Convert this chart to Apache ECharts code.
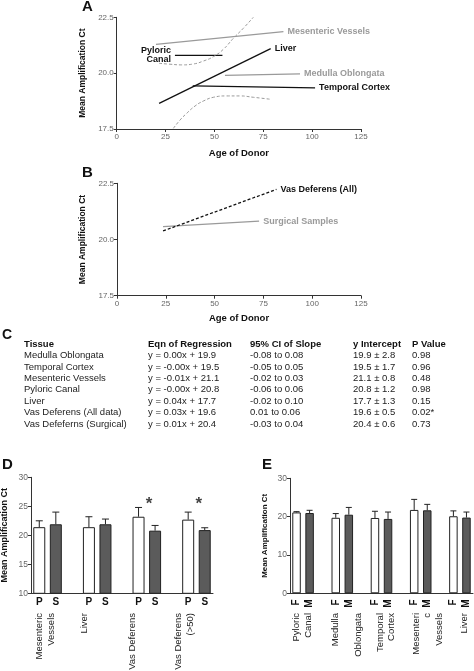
<!DOCTYPE html>
<html lang="en">
<head>
<meta charset="UTF-8">
<title>Ct vs donor age</title>
<script src="https://cdn.jsdelivr.net/npm/echarts@6/dist/echarts.min.js"></script>
<style>
  html, body { margin: 0; padding: 0; background: #fff; }
  #chart { width: 474px; height: 671px; }
</style>
</head>
<body>
<div id="chart"></div>
<script>
// ---- panel A: regression lines (age of donor, Ct) ----
var aMesenteric = [[20.1, 21.29], [85.3, 21.86]];
var aLiver = [[21.7, 18.65], [78.8, 21.1]];
var aPyloric = [[29.8, 20.8], [54.1, 20.8]];
var aMedulla = [[55.4, 19.9], [93.8, 19.97]];
var aTemporal = [[38.9, 19.43], [101.5, 19.34]];
var aCiUpper = [[21.7, 20.44], [27.3, 20.4], [33.3, 20.37], [39.2, 20.41], [44.3, 20.54],
  [49.5, 20.74], [54.6, 21.07], [59.7, 21.56], [64.8, 22.01], [69.9, 22.5]];
var aCiLower = [[29.0, 17.53], [32.4, 17.9], [35.8, 18.2], [40.1, 18.53], [44.3, 18.75],
  [49.5, 18.92], [56.3, 18.98], [63.1, 18.98], [69.9, 18.92], [78.8, 18.83]];

// ---- panel B ----
var bVasAll = [[23.6, 20.38], [81.7, 22.23]];
var bSurgical = [[23.6, 20.57], [72.8, 20.82]];

var ageTicks = [0, 25, 50, 75, 100, 125];
var ctTicks = [17.5, 20.0, 22.5];

// ---- panel C: table ----
var tHeader = ['Tissue', 'Eqn of Regression', '95% CI of Slope', 'y Intercept', 'P Value'];
var tTissue = ['Medulla Oblongata', 'Temporal Cortex', 'Mesenteric Vessels', 'Pyloric Canal',
  'Liver', 'Vas Deferens (All data)', 'Vas Defeferns (Surgical)'];
var tEqn = ['y = 0.00x + 19.9', 'y = -0.00x + 19.5', 'y = -0.01x + 21.1', 'y = -0.00x + 20.8',
  'y = 0.04x + 17.7', 'y = 0.03x + 19.6', 'y = 0.01x + 20.4'];
var tCi = ['-0.08 to 0.08', '-0.05 to 0.05', '-0.02 to 0.03', '-0.06 to 0.06',
  '-0.02 to 0.10', '0.01 to 0.06', '-0.03 to 0.04'];
var tIntercept = ['19.9 \u00b1 2.8', '19.5 \u00b1 1.7', '21.1 \u00b1 0.8', '20.8 \u00b1 1.2',
  '17.7 \u00b1 1.3', '19.6 \u00b1 0.5', '20.4 \u00b1 0.6'];
var tP = ['0.98', '0.96', '0.48', '0.98', '0.15', '0.02*', '0.73'];

// ---- panel D: post-mortem (P) vs surgical (S) ----
var dGroups = ['Mesenteric\nVessels', 'Liver', 'Vas Deferens', 'Vas Deferens\n(>50)'];
var dPMean = [21.4, 21.4, 23.2, 22.7];
var dPErr = [1.1, 1.8, 1.6, 1.3];
var dSMean = [21.9, 21.9, 20.8, 20.9];
var dSErr = [2.1, 0.9, 0.9, 0.4];
var dStar = [null, null, 25.8, 25.8];

// ---- panel E: female (F) vs male (M) ----
var eGroups = ['Pyloric\nCanal', 'Medulla\n\nOblongata', 'Temporal\nCortex', 'Mesenteri\nc\nVessels', 'Liver'];
var eFMean = [21.1, 19.7, 19.65, 21.75, 20.1];
var eFErr = [0.2, 1.1, 1.75, 2.75, 1.4];
var eMMean = [20.95, 20.5, 19.4, 21.65, 19.75];
var eMErr = [0.7, 1.9, 1.8, 1.55, 1.45];

var FONT = '"Liberation Sans", Arial, Helvetica, sans-serif';
var AXIS_COLOR = '#333';
var TICK_COLOR = '#666';

var chart = echarts.init(document.getElementById('chart'), null, { renderer: 'canvas' });

// slot layout: P S gap P S gap ...
function slots(groups, a, b) {
  var cats = [];
  groups.forEach(function (g, i) {
    cats.push(a, b);
    if (i < groups.length - 1) cats.push('');
  });
  return cats;
}
function barData(values, offset, total) {
  var out = [];
  for (var i = 0; i < total; i++) out.push('-');
  values.forEach(function (v, g) { out[g * 3 + offset] = v; });
  return out;
}
function errData(means, errs, offset) {
  return means.map(function (m, g) { return [g * 3 + offset, m, errs[g]]; });
}
function errorRenderer(capW) {
  return function (params, api) {
    var base = api.coord([api.value(0), api.value(1)]);
    var top = api.coord([api.value(0), api.value(1) + api.value(2)]);
    var st = { stroke: '#222', lineWidth: 1 };
    return {
      type: 'group',
      children: [
        { type: 'line', shape: { x1: base[0], y1: base[1], x2: top[0], y2: top[1] }, style: st },
        { type: 'line', shape: { x1: top[0] - capW / 2, y1: top[1], x2: top[0] + capW / 2, y2: top[1] }, style: st }
      ]
    };
  };
}

var dCats = slots(dGroups, 'P', 'S');
var eCats = slots(eGroups, 'F', 'M');

function lineSeries(name, data, grid, color, dashed, width, labelColor, labelPos) {
  var pt = labelPos === 'left' ? data[0] : data[data.length - 1];
  return {
    name: name, type: 'line', xAxisIndex: grid, yAxisIndex: grid,
    data: data, smooth: data.length > 2, showSymbol: false, symbol: 'none',
    lineStyle: { color: color, width: width, type: dashed ? [3, 2] : 'solid' },
    silent: true,
    markPoint: labelColor ? {
      symbol: 'circle', symbolSize: 0.1, silent: true,
      data: [{ coord: pt }],
      label: {
        show: true, position: labelPos || 'right', distance: 4, formatter: name,
        color: labelColor, fontFamily: FONT, fontWeight: 'bold', fontSize: 9, lineHeight: 9
      }
    } : undefined
  };
}

function ageAxes(grid, nameGap) {
  return {
    x: {
      type: 'value', gridIndex: grid, min: 0, max: 125, interval: 25,
      name: 'Age of Donor', nameLocation: 'middle', nameGap: nameGap,
      nameTextStyle: { fontFamily: FONT, fontWeight: 'bold', fontSize: 9.5, color: '#111' },
      axisLine: { lineStyle: { color: AXIS_COLOR } },
      axisTick: { length: 3, lineStyle: { color: AXIS_COLOR } },
      axisLabel: { fontFamily: FONT, fontSize: 8, color: TICK_COLOR, margin: 4,
        customValues: ageTicks },
      splitLine: { show: false }
    },
    y: {
      type: 'value', gridIndex: grid, min: 17.5, max: 22.5, interval: 2.5,
      name: 'Mean Amplification Ct', nameLocation: 'middle', nameGap: 24, nameRotate: 90,
      nameTextStyle: { fontFamily: FONT, fontWeight: 'bold', fontSize: 8.5, color: '#111' },
      axisLine: { show: true, lineStyle: { color: AXIS_COLOR } },
      axisTick: { show: true, length: 3, lineStyle: { color: AXIS_COLOR } },
      axisLabel: { fontFamily: FONT, fontSize: 8, color: TICK_COLOR, margin: 3,
        formatter: function (v) { return v.toFixed(1); } },
      splitLine: { show: false }
    }
  };
}

function barAxes(grid, cats, min, max, interval, rotate, margin, nameGap, nameSize) {
  return {
    x: {
      type: 'category', gridIndex: grid, data: cats,
      axisLine: { lineStyle: { color: AXIS_COLOR } },
      axisTick: { show: false },
      axisLabel: { interval: 0, fontFamily: FONT, fontWeight: 'bold', fontSize: 10,
        color: '#111', rotate: rotate, margin: margin }
    },
    y: {
      type: 'value', gridIndex: grid, min: min, max: max, interval: interval,
      name: 'Mean Amplification Ct', nameLocation: 'middle', nameGap: nameGap, nameRotate: 90,
      nameTextStyle: { fontFamily: FONT, fontWeight: 'bold', fontSize: nameSize, color: '#111' },
      axisLine: { show: true, lineStyle: { color: AXIS_COLOR } },
      axisTick: { show: true, length: 3, lineStyle: { color: AXIS_COLOR } },
      axisLabel: { fontFamily: FONT, fontSize: 8.5, color: TICK_COLOR, margin: 3 },
      splitLine: { show: false }
    }
  };
}

var axA = ageAxes(0, 19);
var axB = ageAxes(1, 18);
var axD = barAxes(2, dCats, 10, 30, 5, 0, 4, 22, 9);
var axE = barAxes(3, eCats, 0, 30, 10, 90, 6, 21, 8);

var GRAY = '#9a9a9a';
var series = [
  lineSeries('Mesenteric Vessels', aMesenteric, 0, GRAY, false, 1.2, GRAY),
  lineSeries('Liver', aLiver, 0, '#111', false, 1.3, '#111'),
  lineSeries('Pyloric\nCanal', aPyloric, 0, '#111', false, 1.3, '#111', 'left'),
  lineSeries('Medulla Oblongata', aMedulla, 0, GRAY, false, 1.2, GRAY),
  lineSeries('Temporal Cortex', aTemporal, 0, '#111', false, 1.3, '#111'),
  lineSeries('ci upper', aCiUpper, 0, GRAY, true, 1),
  lineSeries('ci lower', aCiLower, 0, GRAY, true, 1),
  lineSeries('Surgical Samples', bSurgical, 1, GRAY, false, 1.3, GRAY),
  lineSeries('Vas Deferens (All)', bVasAll, 1, '#111', true, 1.3, '#111')
];

function barSeries(grid, values, total, offset, fill, width) {
  return {
    type: 'bar', xAxisIndex: grid, yAxisIndex: grid,
    data: barData(values, offset, total), barWidth: width, barGap: '-100%',
    itemStyle: { color: fill, borderColor: '#222', borderWidth: 1 }, silent: true
  };
}
series.push(
  barSeries(2, dPMean, dCats.length, 0, '#ffffff', 12),
  barSeries(2, dSMean, dCats.length, 1, '#5b5b5b', 12),
  { type: 'custom', xAxisIndex: 2, yAxisIndex: 2, renderItem: errorRenderer(7),
    data: errData(dPMean, dPErr, 0).concat(errData(dSMean, dSErr, 1)), silent: true, z: 3 },
  { type: 'scatter', xAxisIndex: 2, yAxisIndex: 2, symbolSize: 0.1, silent: true,
    data: dStar.map(function (y, g) { return y === null ? null : [g * 3 + 1, y]; })
      .filter(function (d) { return d; }),
    label: { show: true, formatter: '*', position: 'inside', offset: [-6, 3],
      fontFamily: FONT, fontWeight: 'bold', fontSize: 17, color: '#111' } },
  barSeries(3, eFMean, eCats.length, 0, '#ffffff', 8.5),
  barSeries(3, eMMean, eCats.length, 1, '#5b5b5b', 8.5),
  { type: 'custom', xAxisIndex: 3, yAxisIndex: 3, renderItem: errorRenderer(6),
    data: errData(eFMean, eFErr, 0).concat(errData(eMMean, eMErr, 1)), silent: true, z: 3 }
);

// table text for panel C
var tableCols = [24, 148, 250, 353, 412];
var tableTop = 344, rowStep = 11.45;
var graphics = [];
function txt(x, y, s, opt) {
  opt = opt || {};
  graphics.push({
    type: 'text', x: x, y: y, rotation: opt.rotation || 0, silent: true,
    style: {
      text: s, fill: opt.color || '#111', fontFamily: FONT,
      fontWeight: opt.bold ? 'bold' : 'normal', fontSize: opt.size || 9.5,
      align: opt.align || 'left', verticalAlign: opt.valign || 'middle',
      lineHeight: opt.lineHeight
    }
  });
}
tHeader.forEach(function (h, c) { txt(tableCols[c], tableTop, h, { bold: true, size: 9.5 }); });
var tCols = [tTissue, tEqn, tCi, tIntercept, tP];
tCols.forEach(function (col, c) {
  col.forEach(function (s, r) {
    txt(tableCols[c], tableTop + rowStep * (r + 1), s, { size: 9.5, color: '#222' });
  });
});

// panel letters
txt(82, 7, 'A', { bold: true, size: 15 });
txt(82, 173, 'B', { bold: true, size: 15 });
txt(2, 335, 'C', { bold: true, size: 14 });
txt(2, 465, 'D', { bold: true, size: 15 });
txt(262, 465, 'E', { bold: true, size: 15 });

chart.setOption({
  animation: false,
  backgroundColor: '#fff',
  textStyle: { fontFamily: FONT },
  grid: [
    { left: 116.7, top: 17.3, width: 244.3, height: 111.7, outerBoundsMode: 'none' },
    { left: 117, top: 183.3, width: 244, height: 112.4, outerBoundsMode: 'none' },
    { left: 31, top: 477.3, width: 182, height: 116, outerBoundsMode: 'none' },
    { left: 290, top: 478.3, width: 183, height: 115, outerBoundsMode: 'none' }
  ],
  xAxis: [axA.x, axB.x, axD.x, axE.x],
  yAxis: [axA.y, axB.y, axD.y, axE.y],
  series: series,
  graphic: graphics
});

// group names under bar panels, rotated, placed from the category slots
function groupLabels(grid, groups, shift, lh) {
  groups.forEach(function (g, i) {
    var px = chart.convertToPixel({ xAxisIndex: grid }, i * 3);
    var nLines = g.split('\n').length;
    txt(px + shift[i] + (nLines - 1) * lh / 2, 613, g, {
      rotation: Math.PI / 2, align: 'right', size: 9.5, lineHeight: lh, color: '#222'
    });
  });
}
groupLabels(2, dGroups, [0, -4.6, -6.3, -10], 12.5);
groupLabels(3, eGroups, [0, 0, 5, 2, 11], 11.5);
chart.setOption({ graphic: graphics });
</script>
</body>
</html>
